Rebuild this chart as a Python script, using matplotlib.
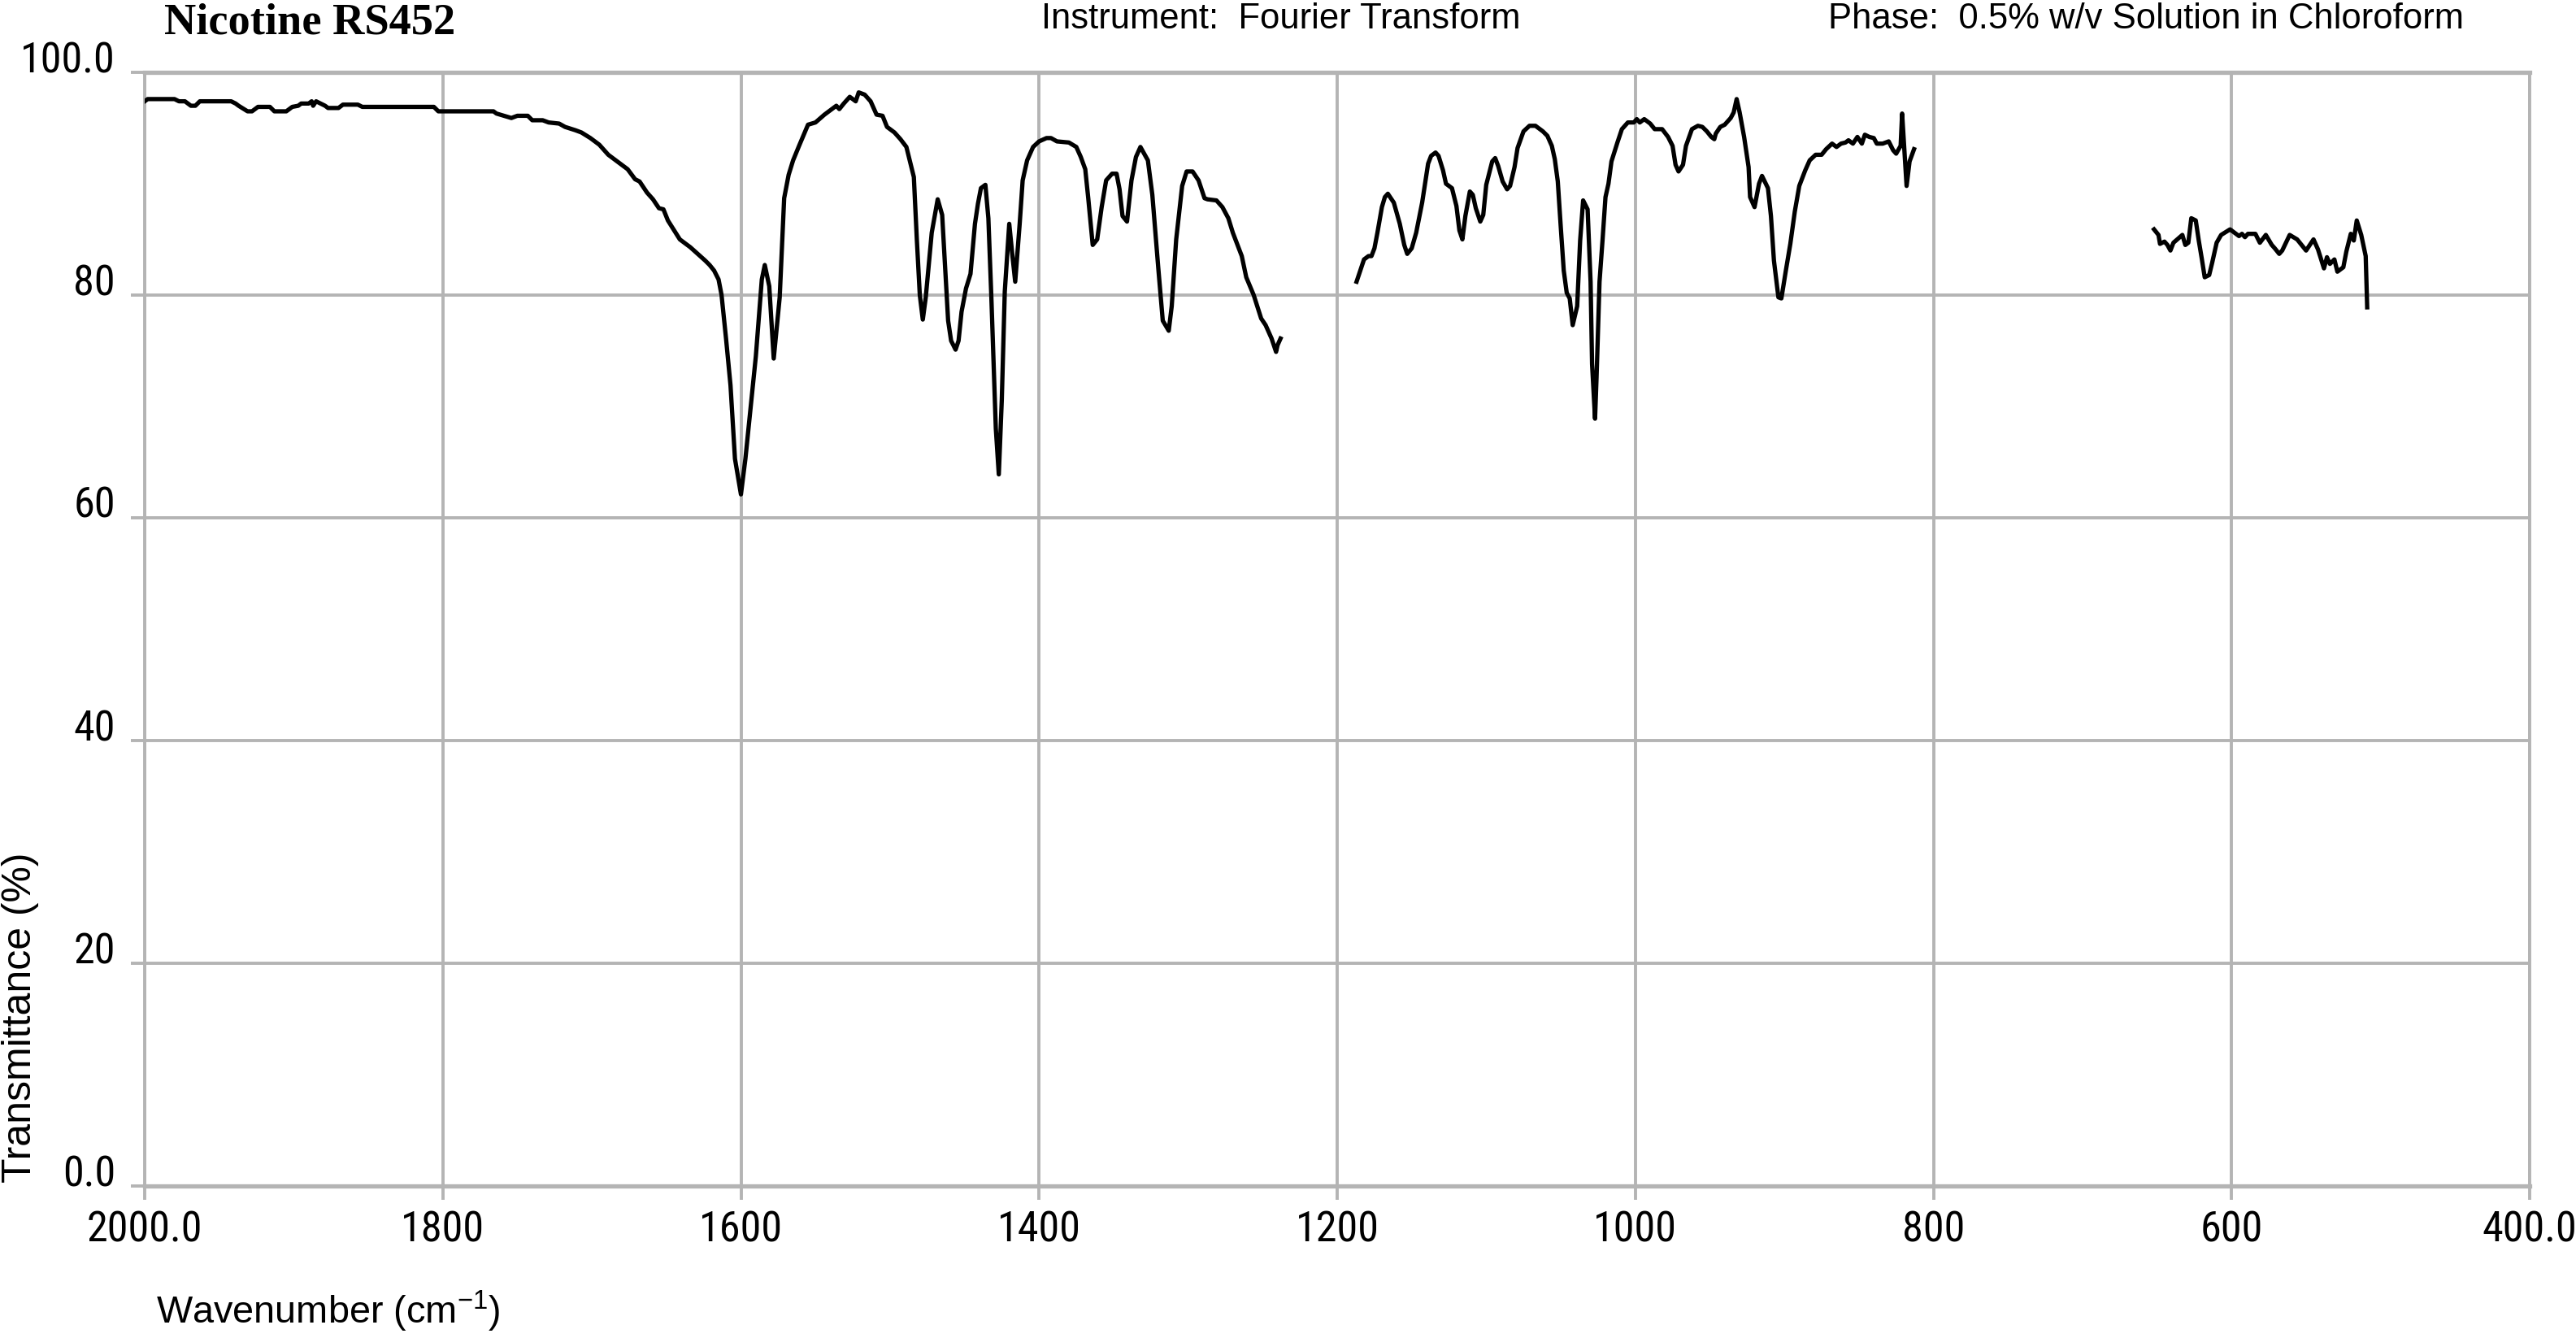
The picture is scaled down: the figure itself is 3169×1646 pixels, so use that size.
"""
Nicotine RS452 — IR 透过率谱图重绘
输出: out.png
"""

import matplotlib
matplotlib.use("Agg")
import matplotlib.pyplot as plt
from matplotlib import font_manager as fm
from matplotlib.font_manager import FontProperties

plt.rcParams.update({
    "font.family": ["Liberation Sans", "DejaVu Sans"],
    "mathtext.fontset": "custom",
    "mathtext.rm": "Liberation Sans",
    "mathtext.default": "regular",
})

GRID = "#b4b4b4"

# ── 数据: 三段光谱 (波数 cm-1, 透过率 %) ──
wn_seg1 = [2000, 1998, 1980, 1977, 1973, 1969, 1966, 1963, 1942, 1939, 1937, 1931,
           1928, 1924, 1916, 1913, 1905, 1901, 1897, 1895, 1890, 1888, 1887, 1885,
           1882, 1879, 1877, 1870, 1867, 1857, 1854, 1806, 1803, 1766, 1764, 1759,
           1754, 1750, 1743, 1740, 1733, 1729, 1722, 1718, 1711, 1707, 1701, 1695,
           1689, 1682, 1676, 1671, 1668, 1663, 1659, 1655, 1652, 1649, 1641, 1634,
           1624, 1621, 1618, 1615, 1613, 1610, 1607, 1604, 1600, 1597, 1593, 1590,
           1586, 1584, 1581, 1578, 1574, 1571, 1568, 1565, 1561, 1555, 1550, 1544,
           1536, 1534, 1531, 1527, 1523, 1521, 1517, 1513, 1509, 1505, 1502, 1497,
           1493, 1489, 1484, 1482, 1480, 1478, 1476, 1472, 1468, 1465, 1463, 1461,
           1459, 1456, 1454, 1452, 1449, 1446, 1443, 1441, 1439, 1436, 1434, 1432,
           1429, 1427, 1425, 1423, 1420, 1418, 1416, 1413, 1411, 1408, 1404, 1400,
           1395, 1392, 1388, 1380, 1375, 1372, 1369, 1367, 1364, 1361, 1358, 1355,
           1351, 1348, 1346, 1344, 1341, 1338, 1335, 1332, 1327, 1324, 1320, 1317,
           1313, 1311, 1308, 1304, 1301, 1297, 1293, 1289, 1287, 1281, 1277, 1273,
           1270, 1264, 1261, 1256, 1251, 1248, 1244, 1241, 1240, 1238]
t_seg1 = [97.4, 97.6, 97.6, 97.4, 97.4, 97.0, 97.0, 97.4, 97.4, 97.2, 97.0, 96.5,
          96.5, 96.9, 96.9, 96.5, 96.5, 96.9, 97.0, 97.2, 97.2, 97.4, 97.0, 97.4,
          97.2, 97.0, 96.8, 96.8, 97.1, 97.1, 96.9, 96.9, 96.5, 96.5, 96.3, 96.1,
          95.9, 96.1, 96.1, 95.7, 95.7, 95.5, 95.4, 95.1, 94.8, 94.6, 94.1, 93.5,
          92.6, 91.9, 91.3, 90.4, 90.2, 89.2, 88.6, 87.8, 87.7, 86.7, 85.0, 84.3,
          83.1, 82.7, 82.2, 81.4, 80.0, 76.1, 71.9, 65.3, 62.1, 65.3, 70.6, 74.5,
          81.4, 82.7, 80.8, 74.3, 79.8, 88.7, 90.8, 92.1, 93.4, 95.3, 95.5, 96.2,
          97.0, 96.7, 97.2, 97.8, 97.4, 98.2, 98.0, 97.4, 96.2, 96.1, 95.1, 94.6,
          94.0, 93.3, 90.6, 85.0, 80.0, 77.8, 79.8, 85.6, 88.6, 87.2, 82.4, 77.7,
          75.9, 75.1, 75.9, 78.5, 80.6, 81.9, 86.4, 88.2, 89.6, 89.9, 86.9, 79.8,
          68.0, 63.9, 70.6, 80.3, 86.4, 83.7, 81.2, 86.4, 90.3, 92.1, 93.3, 93.8,
          94.1, 94.1, 93.8, 93.7, 93.3, 92.4, 91.3, 88.7, 84.5, 85.0, 87.9, 90.3,
          90.9, 90.9, 89.5, 87.1, 86.6, 90.3, 92.4, 93.3, 92.1, 89.0, 82.4, 77.7,
          76.8, 79.0, 85.0, 89.8, 91.1, 91.1, 90.3, 88.7, 88.6, 88.5, 87.9, 86.9,
          85.6, 83.5, 81.6, 80.0, 77.9, 77.3, 76.1, 74.9, 75.5, 76.1]

wn_seg2 = [1187, 1185, 1182, 1179, 1177, 1175, 1173, 1170, 1168, 1166, 1162, 1158,
           1155, 1153, 1150, 1147, 1143, 1139, 1137, 1134, 1132, 1129, 1127, 1123,
           1120, 1118, 1116, 1114, 1111, 1109, 1107, 1104, 1102, 1100, 1096, 1094,
           1092, 1089, 1086, 1084, 1081, 1079, 1075, 1071, 1067, 1062, 1059, 1056,
           1054, 1052, 1050, 1048, 1046, 1044, 1042, 1039, 1037, 1035, 1032, 1030,
           1029, 1027, 1026, 1024, 1022, 1020, 1018, 1016, 1012, 1009, 1005, 1001,
           999, 997, 994, 990, 987, 982, 978, 975, 973, 971, 968, 966, 962, 958, 955,
           952, 949, 947, 946, 943, 940, 936, 934, 932, 930, 927, 924, 923, 920, 917,
           915, 911, 909, 907, 904, 902, 899, 896, 893, 890, 886, 883, 879, 875, 872,
           868, 865, 862, 859, 857, 854, 851, 848, 846, 843, 840, 838, 834, 830, 827,
           825, 822, 821, 818, 816, 813]
t_seg2 = [81.2, 82.0, 83.2, 83.5, 83.5, 84.2, 85.6, 87.9, 88.8, 89.1, 88.3, 86.4,
          84.5, 83.7, 84.2, 85.6, 88.3, 91.8, 92.5, 92.8, 92.5, 91.2, 90.0, 89.6,
          88.0, 85.8, 85.0, 87.1, 89.3, 89.0, 87.8, 86.6, 87.2, 89.9, 92.0, 92.3,
          91.6, 90.2, 89.5, 89.8, 91.5, 93.2, 94.7, 95.2, 95.2, 94.7, 94.3, 93.4,
          92.2, 90.2, 86.1, 82.2, 80.2, 79.7, 77.3, 79.0, 84.9, 88.5, 87.7, 81.2,
          73.8, 68.9, 72.6, 81.2, 84.9, 88.8, 90.0, 92.0, 93.7, 94.9, 95.5, 95.5,
          95.8, 95.5, 95.8, 95.4, 94.9, 94.9, 94.2, 93.4, 91.7, 91.1, 91.7, 93.4,
          94.9, 95.2, 95.1, 94.7, 94.2, 94.0, 94.5, 95.1, 95.3, 95.9, 96.4, 97.6,
          96.4, 94.2, 91.5, 88.8, 87.9, 90.0, 90.7, 89.6, 87.1, 83.1, 79.8, 79.7,
          82.2, 84.6, 87.5, 89.8, 91.2, 92.1, 92.6, 92.6, 93.1, 93.6, 93.3, 93.6,
          93.7, 93.9, 93.6, 94.2, 93.6, 94.4, 94.2, 94.1, 93.6, 93.6, 93.8, 93.0,
          92.7, 93.4, 96.3, 89.8, 92.0, 93.1]

wn_seg3 = [652, 649, 648, 645, 643, 641, 639, 633, 631, 629, 627, 624, 622, 620,
           618, 615, 613, 610, 607, 601, 600, 595, 593, 591, 589, 584, 581, 577,
           573, 571, 568, 566, 561, 556, 550, 545, 542, 538, 536, 534, 531, 529,
           525, 523, 520, 518, 516, 513, 510, 509]
t_seg3 = [85.9, 85.4, 84.6, 84.8, 84.5, 84.0, 84.7, 85.4, 84.5, 84.7, 86.9, 86.7,
          84.9, 83.3, 81.6, 81.8, 82.9, 84.7, 85.4, 85.9, 85.8, 85.3, 85.5, 85.2,
          85.5, 85.5, 84.7, 85.4, 84.5, 84.2, 83.7, 84.0, 85.4, 85.0, 84.0, 85.0,
          84.1, 82.4, 83.4, 82.8, 83.2, 82.1, 82.5, 83.9, 85.5, 84.9, 86.7, 85.4,
          83.5, 78.9]

x_ticks = [2000, 1800, 1600, 1400, 1200, 1000, 800, 600, 400]
x_labels = ["2000.0", "1800", "1600", "1400", "1200", "1000", "800", "600", "400.0"]
y_ticks = [0, 20, 40, 60, 80, 100]
y_labels = ["0.0", "20", "40", "60", "80", "100.0"]

title = "Nicotine RS452"
instrument = "Instrument:  Fourier Transform"
phase = "Phase:  0.5% w/v Solution in Chloroform"


def narrow_font():
    # 刻度字体是窄体, 找一个能用的; 找不到就用普通 Liberation Sans
    names = {f.name: f for f in fm.fontManager.ttflist}
    for n in ["Liberation Sans Narrow", "Arial Narrow", "Nimbus Sans Narrow",
              "Roboto Condensed", "Open Sans Condensed", "DejaVu Sans Condensed",
              "Noto Sans Condensed"]:
        if n in names:
            return FontProperties(family=n)
    for f in fm.fontManager.ttflist:
        if f.stretch in ("condensed", "semi-condensed") and f.style == "normal" \
                and f.weight in (400, "normal", "regular", "book"):
            return FontProperties(fname=f.fname)
    return FontProperties(family="Liberation Sans")


def fit_width(txt, target_px, renderer):
    w = txt.get_window_extent(renderer).width
    txt.set_fontsize(txt.get_fontsize() * target_px / w)


# ── 画图 ──
W, H = 3169, 1646
fig = plt.figure(figsize=(W / 100, H / 100), dpi=100)
renderer = fig.canvas.get_renderer()
ax = fig.add_axes([178 / W, (H - 1459) / H, (3112 - 178) / W, (1459 - 89) / H])

for wn, t in [(wn_seg1, t_seg1), (wn_seg2, t_seg2), (wn_seg3, t_seg3)]:
    ax.plot(wn, t, color="black", linewidth=3.8, solid_joinstyle="round", zorder=3)

ax.set_xlim(2000, 400)
ax.set_ylim(0, 100)

# 刻度字号: 让 "2000.0" 宽约 143 px
tick_fp = narrow_font()
tick_fp.set_size(38)
probe = fig.text(0, 0, "2000.0", fontproperties=tick_fp)
fit_width(probe, 143, renderer)
tick_fp.set_size(probe.get_fontsize())
probe.remove()

ax.set_xticks(x_ticks)
ax.set_xticklabels(x_labels, fontproperties=tick_fp)
ax.set_yticks(y_ticks)
ax.set_yticklabels(y_labels, fontproperties=tick_fp, va="baseline")

ax.grid(True, color=GRID, linewidth=2.8, zorder=0)
ax.tick_params(axis="both", direction="out", length=12, width=2.8, color=GRID,
               labelcolor="black")
ax.tick_params(axis="x", pad=9)
ax.tick_params(axis="y", pad=14)
for side in ["left", "right"]:
    ax.spines[side].set_color(GRID)
    ax.spines[side].set_linewidth(2.8)
for side in ["top", "bottom"]:
    ax.spines[side].set_color(GRID)
    ax.spines[side].set_linewidth(3.8)

# 轴标题
xl = fig.text(192 / W, 1 - 1613 / H, "Wavenumber (cm$^{-1}$)", fontsize=34,
              ha="left", va="center")
yl = fig.text(2 / W, 1 - 1455 / H, "Transmittance (%)", fontsize=36,
              rotation=90, ha="left", va="bottom")
fit_width(xl, 424, renderer)

# 顶部说明
t0 = fig.text(202 / W, 1 - 42 / H, title, fontsize=38, family="Liberation Serif",
              fontweight="bold", ha="left", va="baseline")
t1 = fig.text(1281 / W, 1 - 35 / H, instrument, fontsize=31, ha="left", va="baseline")
t2 = fig.text(2249 / W, 1 - 35 / H, phase, fontsize=31, ha="left", va="baseline")
fit_width(t0, 358, renderer)
fit_width(t1, 589, renderer)
fit_width(t2, 780, renderer)

fig.savefig("out.png", dpi=100)
